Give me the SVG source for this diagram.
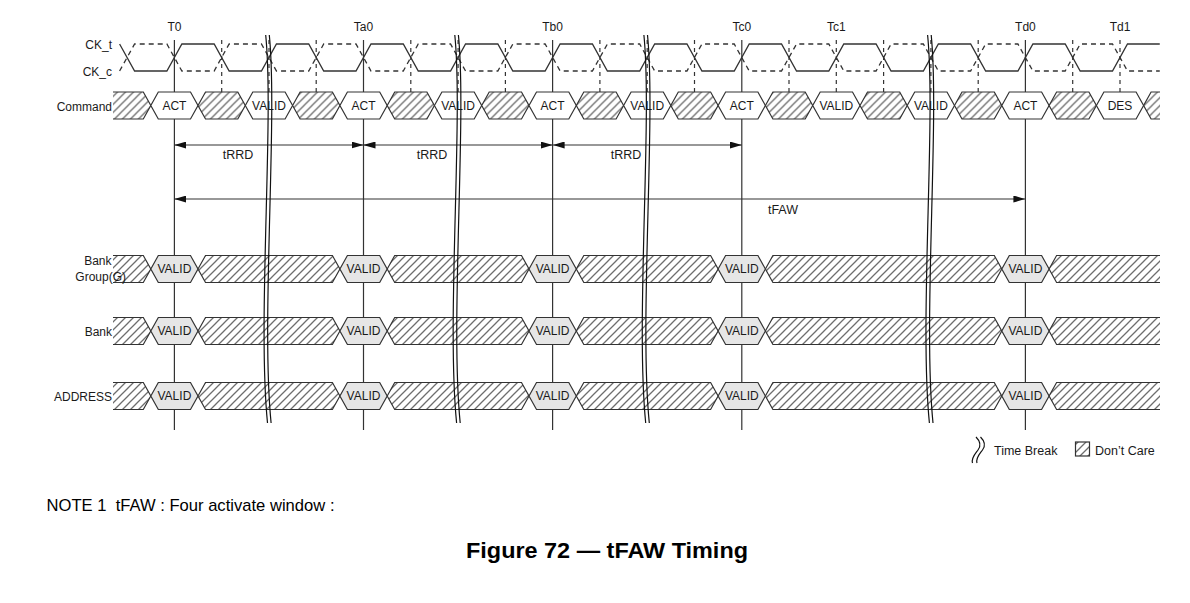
<svg xmlns="http://www.w3.org/2000/svg" width="1190" height="603" viewBox="0 0 1190 603">
<style>
text{font-family:"Liberation Sans",Arial,sans-serif;fill:#1a1a1a;font-size:12px}
.lbl{text-anchor:end}
.mid{text-anchor:middle}
.hx{fill:#fff;stroke:#333;stroke-width:1.2}
.hv{fill:#e6e6e6;stroke:#333;stroke-width:1.2}
.hz{fill:url(#hatch);stroke:#333;stroke-width:1.2}
.hzf{fill:url(#hatch);stroke:none}
.edge{fill:none;stroke:#333;stroke-width:1.2}
.vs{stroke:#333;stroke-width:1.2;fill:none}
.vd{stroke:#333;stroke-width:1.2;stroke-dasharray:4 4;fill:none}
.ck{fill:none;stroke:#333;stroke-width:1.3}
.ckc{fill:none;stroke:#333;stroke-width:1.3;stroke-dasharray:5 4}
.brk{fill:none;stroke:#111;stroke-width:1.2}
.arr{stroke:#333;stroke-width:1.2;marker-start:url(#ah);marker-end:url(#ah)}
</style>
<defs>
<pattern id="hatch" width="8" height="8" patternUnits="userSpaceOnUse">
<rect width="8" height="8" fill="#fff"/>
<path d="M-2,2 L2,-2 M0,8 L8,0 M6,10 L10,6" stroke="#6e6e6e" stroke-width="1.3"/>
</pattern>
<marker id="ah" viewBox="0 0 12 7" refX="12" refY="3.5" markerWidth="12" markerHeight="7" markerUnits="userSpaceOnUse" orient="auto-start-reverse">
<path d="M0,0 L12,3.5 L0,7 z" fill="#111"/>
</marker>
</defs>
<rect width="1190" height="603" fill="#fff"/>

<g id="time-labels" class="mid">
<text class="mid" x="174.4" y="31">T0</text>
<text class="mid" x="363.5" y="31">Ta0</text>
<text class="mid" x="552.6" y="31">Tb0</text>
<text class="mid" x="741.8" y="31">Tc0</text>
<text class="mid" x="836.3" y="31">Tc1</text>
<text class="mid" x="1025.4" y="31">Td0</text>
<text class="mid" x="1120" y="31">Td1</text>
</g>

<g id="grid-lines">
<line class="vs" x1="174.4" y1="40" x2="174.4" y2="430"/>
<line class="vs" x1="363.5" y1="40" x2="363.5" y2="430"/>
<line class="vs" x1="552.6" y1="40" x2="552.6" y2="430"/>
<line class="vs" x1="741.8" y1="40" x2="741.8" y2="430"/>
<line class="vs" x1="1025.4" y1="40" x2="1025.4" y2="430"/>
<path class="vd" d="M221.7,40V92 M269,40V92 M316.2,40V92 M410.8,40V92 M458.1,40V92 M505.4,40V92 M599.9,40V92 M647.2,40V92 M694.5,40V92 M789,40V92 M836.3,40V92 M883.6,40V92 M930.9,40V92 M978.2,40V92 M1072.7,40V92 M1120,40V92"/>
</g>

<g id="clock">
<path class="ck" d="M119.6,44 l15,27 h32.28 l15,-27 h32.28 l15,27 h32.28 l15,-27 h32.28 l15,27 h32.28 l15,-27 h32.28 l15,27 h32.28 l15,-27 h32.28 l15,27 h32.28 l15,-27 h32.28 l15,27 h32.28 l15,-27 h32.28 l15,27 h32.28 l15,-27 h32.28 l15,27 h32.28 l15,-27 h32.28 l15,27 h32.28 l15,-27 h32.28 l15,27 h32.28 l15,-27 h32.28 l15,27 h32.28 l15,-27 h32.28"/>
<path class="ckc" d="M119.6,71 l15,-27 h32.28 l15,27 h32.28 l15,-27 h32.28 l15,27 h32.28 l15,-27 h32.28 l15,27 h32.28 l15,-27 h32.28 l15,27 h32.28 l15,-27 h32.28 l15,27 h32.28 l15,-27 h32.28 l15,27 h32.28 l15,-27 h32.28 l15,27 h32.28 l15,-27 h32.28 l15,27 h32.28 l15,-27 h32.28 l15,27 h32.28 l15,-27 h32.28 l15,27 h32.28 l15,-27 h32.28 l15,27 h32.28"/>
<text class="lbl" x="112" y="49">CK_t</text>
<text class="lbl" x="112" y="76">CK_c</text>
</g>

<g id="command" transform="translate(0,105.5)">
<polygon class="hzf" points="113,-13.5 143.3,-13.5 150.8,0 143.3,13.5 113,13.5"/>
<polyline class="edge" points="113,-13.5 143.3,-13.5 150.8,0 143.3,13.5 113,13.5"/>
<polygon class="hx" points="150.8,0 158.3,-13.5 190.5,-13.5 198,0 190.5,13.5 158.3,13.5"/>
<polygon class="hz" points="198,0 205.5,-13.5 237.8,-13.5 245.3,0 237.8,13.5 205.5,13.5"/>
<polygon class="hx" points="245.3,0 252.8,-13.5 285.1,-13.5 292.6,0 285.1,13.5 252.8,13.5"/>
<polygon class="hz" points="292.6,0 300.1,-13.5 332.4,-13.5 339.9,0 332.4,13.5 300.1,13.5"/>
<polygon class="hx" points="339.9,0 347.4,-13.5 379.7,-13.5 387.2,0 379.7,13.5 347.4,13.5"/>
<polygon class="hz" points="387.2,0 394.7,-13.5 426.9,-13.5 434.4,0 426.9,13.5 394.7,13.5"/>
<polygon class="hx" points="434.4,0 441.9,-13.5 474.2,-13.5 481.7,0 474.2,13.5 441.9,13.5"/>
<polygon class="hz" points="481.7,0 489.2,-13.5 521.5,-13.5 529,0 521.5,13.5 489.2,13.5"/>
<polygon class="hx" points="529,0 536.5,-13.5 568.8,-13.5 576.3,0 568.8,13.5 536.5,13.5"/>
<polygon class="hz" points="576.3,0 583.8,-13.5 616.1,-13.5 623.6,0 616.1,13.5 583.8,13.5"/>
<polygon class="hx" points="623.6,0 631.1,-13.5 663.3,-13.5 670.8,0 663.3,13.5 631.1,13.5"/>
<polygon class="hz" points="670.8,0 678.3,-13.5 710.6,-13.5 718.1,0 710.6,13.5 678.3,13.5"/>
<polygon class="hx" points="718.1,0 725.6,-13.5 757.9,-13.5 765.4,0 757.9,13.5 725.6,13.5"/>
<polygon class="hz" points="765.4,0 772.9,-13.5 805.2,-13.5 812.7,0 805.2,13.5 772.9,13.5"/>
<polygon class="hx" points="812.7,0 820.2,-13.5 852.5,-13.5 860,0 852.5,13.5 820.2,13.5"/>
<polygon class="hz" points="860,0 867.5,-13.5 899.7,-13.5 907.2,0 899.7,13.5 867.5,13.5"/>
<polygon class="hx" points="907.2,0 914.7,-13.5 947,-13.5 954.5,0 947,13.5 914.7,13.5"/>
<polygon class="hz" points="954.5,0 962,-13.5 994.3,-13.5 1001.8,0 994.3,13.5 962,13.5"/>
<polygon class="hx" points="1001.8,0 1009.3,-13.5 1041.6,-13.5 1049.1,0 1041.6,13.5 1009.3,13.5"/>
<polygon class="hz" points="1049.1,0 1056.6,-13.5 1088.9,-13.5 1096.4,0 1088.9,13.5 1056.6,13.5"/>
<polygon class="hx" points="1096.4,0 1103.9,-13.5 1136.1,-13.5 1143.6,0 1136.1,13.5 1103.9,13.5"/>
<polygon class="hzf" points="1143.6,0 1151.1,-13.5 1160,-13.5 1160,13.5 1151.1,13.5"/>
<polyline class="edge" points="1160,-13.5 1151.1,-13.5 1143.6,0 1151.1,13.5 1160,13.5"/>
<text class="mid" x="174.4" y="4.3">ACT</text>
<text class="mid" x="269" y="4.3">VALID</text>
<text class="mid" x="363.5" y="4.3">ACT</text>
<text class="mid" x="458.1" y="4.3">VALID</text>
<text class="mid" x="552.6" y="4.3">ACT</text>
<text class="mid" x="647.2" y="4.3">VALID</text>
<text class="mid" x="741.8" y="4.3">ACT</text>
<text class="mid" x="836.3" y="4.3">VALID</text>
<text class="mid" x="930.9" y="4.3">VALID</text>
<text class="mid" x="1025.4" y="4.3">ACT</text>
<text class="mid" x="1120" y="4.3">DES</text>
<text class="lbl" x="112" y="5">Command</text>
</g>

<g id="bank-group" transform="translate(0,269)">
<polygon class="hzf" points="113,-13.5 143.3,-13.5 150.8,0 143.3,13.5 113,13.5"/>
<polyline class="edge" points="113,-13.5 143.3,-13.5 150.8,0 143.3,13.5 113,13.5"/>
<polygon class="hv" points="150.8,0 158.3,-13.5 190.5,-13.5 198,0 190.5,13.5 158.3,13.5"/>
<polygon class="hz" points="198,0 205.5,-13.5 332.4,-13.5 339.9,0 332.4,13.5 205.5,13.5"/>
<polygon class="hv" points="339.9,0 347.4,-13.5 379.7,-13.5 387.2,0 379.7,13.5 347.4,13.5"/>
<polygon class="hz" points="387.2,0 394.7,-13.5 521.5,-13.5 529,0 521.5,13.5 394.7,13.5"/>
<polygon class="hv" points="529,0 536.5,-13.5 568.8,-13.5 576.3,0 568.8,13.5 536.5,13.5"/>
<polygon class="hz" points="576.3,0 583.8,-13.5 710.6,-13.5 718.1,0 710.6,13.5 583.8,13.5"/>
<polygon class="hv" points="718.1,0 725.6,-13.5 757.9,-13.5 765.4,0 757.9,13.5 725.6,13.5"/>
<polygon class="hz" points="765.4,0 772.9,-13.5 994.3,-13.5 1001.8,0 994.3,13.5 772.9,13.5"/>
<polygon class="hv" points="1001.8,0 1009.3,-13.5 1041.6,-13.5 1049.1,0 1041.6,13.5 1009.3,13.5"/>
<polygon class="hzf" points="1049.1,0 1056.6,-13.5 1160,-13.5 1160,13.5 1056.6,13.5"/>
<polyline class="edge" points="1160,-13.5 1056.6,-13.5 1049.1,0 1056.6,13.5 1160,13.5"/>
<text class="mid" x="174.4" y="4.3">VALID</text>
<text class="mid" x="363.5" y="4.3">VALID</text>
<text class="mid" x="552.6" y="4.3">VALID</text>
<text class="mid" x="741.8" y="4.3">VALID</text>
<text class="mid" x="1025.4" y="4.3">VALID</text>
<text class="lbl" x="111.5" y="-4.5">Bank</text>
<text class="lbl" x="126" y="12">Group(G)</text>
</g>

<g id="bank" transform="translate(0,331)">
<polygon class="hzf" points="113,-13.5 143.3,-13.5 150.8,0 143.3,13.5 113,13.5"/>
<polyline class="edge" points="113,-13.5 143.3,-13.5 150.8,0 143.3,13.5 113,13.5"/>
<polygon class="hv" points="150.8,0 158.3,-13.5 190.5,-13.5 198,0 190.5,13.5 158.3,13.5"/>
<polygon class="hz" points="198,0 205.5,-13.5 332.4,-13.5 339.9,0 332.4,13.5 205.5,13.5"/>
<polygon class="hv" points="339.9,0 347.4,-13.5 379.7,-13.5 387.2,0 379.7,13.5 347.4,13.5"/>
<polygon class="hz" points="387.2,0 394.7,-13.5 521.5,-13.5 529,0 521.5,13.5 394.7,13.5"/>
<polygon class="hv" points="529,0 536.5,-13.5 568.8,-13.5 576.3,0 568.8,13.5 536.5,13.5"/>
<polygon class="hz" points="576.3,0 583.8,-13.5 710.6,-13.5 718.1,0 710.6,13.5 583.8,13.5"/>
<polygon class="hv" points="718.1,0 725.6,-13.5 757.9,-13.5 765.4,0 757.9,13.5 725.6,13.5"/>
<polygon class="hz" points="765.4,0 772.9,-13.5 994.3,-13.5 1001.8,0 994.3,13.5 772.9,13.5"/>
<polygon class="hv" points="1001.8,0 1009.3,-13.5 1041.6,-13.5 1049.1,0 1041.6,13.5 1009.3,13.5"/>
<polygon class="hzf" points="1049.1,0 1056.6,-13.5 1160,-13.5 1160,13.5 1056.6,13.5"/>
<polyline class="edge" points="1160,-13.5 1056.6,-13.5 1049.1,0 1056.6,13.5 1160,13.5"/>
<text class="mid" x="174.4" y="4.3">VALID</text>
<text class="mid" x="363.5" y="4.3">VALID</text>
<text class="mid" x="552.6" y="4.3">VALID</text>
<text class="mid" x="741.8" y="4.3">VALID</text>
<text class="mid" x="1025.4" y="4.3">VALID</text>
<text class="lbl" x="112" y="4.5">Bank</text>
</g>

<g id="address" transform="translate(0,396)">
<polygon class="hzf" points="113,-13.5 143.3,-13.5 150.8,0 143.3,13.5 113,13.5"/>
<polyline class="edge" points="113,-13.5 143.3,-13.5 150.8,0 143.3,13.5 113,13.5"/>
<polygon class="hv" points="150.8,0 158.3,-13.5 190.5,-13.5 198,0 190.5,13.5 158.3,13.5"/>
<polygon class="hz" points="198,0 205.5,-13.5 332.4,-13.5 339.9,0 332.4,13.5 205.5,13.5"/>
<polygon class="hv" points="339.9,0 347.4,-13.5 379.7,-13.5 387.2,0 379.7,13.5 347.4,13.5"/>
<polygon class="hz" points="387.2,0 394.7,-13.5 521.5,-13.5 529,0 521.5,13.5 394.7,13.5"/>
<polygon class="hv" points="529,0 536.5,-13.5 568.8,-13.5 576.3,0 568.8,13.5 536.5,13.5"/>
<polygon class="hz" points="576.3,0 583.8,-13.5 710.6,-13.5 718.1,0 710.6,13.5 583.8,13.5"/>
<polygon class="hv" points="718.1,0 725.6,-13.5 757.9,-13.5 765.4,0 757.9,13.5 725.6,13.5"/>
<polygon class="hz" points="765.4,0 772.9,-13.5 994.3,-13.5 1001.8,0 994.3,13.5 772.9,13.5"/>
<polygon class="hv" points="1001.8,0 1009.3,-13.5 1041.6,-13.5 1049.1,0 1041.6,13.5 1009.3,13.5"/>
<polygon class="hzf" points="1049.1,0 1056.6,-13.5 1160,-13.5 1160,13.5 1056.6,13.5"/>
<polyline class="edge" points="1160,-13.5 1056.6,-13.5 1049.1,0 1056.6,13.5 1160,13.5"/>
<text class="mid" x="174.4" y="4.3">VALID</text>
<text class="mid" x="363.5" y="4.3">VALID</text>
<text class="mid" x="552.6" y="4.3">VALID</text>
<text class="mid" x="741.8" y="4.3">VALID</text>
<text class="mid" x="1025.4" y="4.3">VALID</text>
<text class="lbl" x="112" y="4.5">ADDRESS</text>
</g>

<g id="connectors">
<line class="arr" x1="174.4" y1="145" x2="363.5" y2="145"/>
<line class="arr" x1="363.5" y1="145" x2="552.6" y2="145"/>
<line class="arr" x1="552.6" y1="145" x2="741.8" y2="145"/>
<line class="arr" x1="174.4" y1="199" x2="1025.4" y2="199"/>
<text class="mid" x="238" y="159" style="font-size:12.5px">tRRD</text>
<text class="mid" x="432" y="159" style="font-size:12.5px">tRRD</text>
<text class="mid" x="626" y="159" style="font-size:12.5px">tRRD</text>
<text class="mid" x="783" y="214" style="font-size:12.5px">tFAW</text>
</g>

<g id="time-breaks">
<path class="brk" d="M265.7,35 C274.2,120 257.2,320 267.5,423 M269.3,35 C277.8,120 260.8,320 271.1,423"/>
<path class="brk" d="M454.8,35 C463.3,120 446.3,320 456.6,423 M458.4,35 C466.9,120 449.9,320 460.2,423"/>
<path class="brk" d="M643.9,35 C652.4,120 635.4,320 645.7,423 M647.5,35 C656,120 639,320 649.3,423"/>
<path class="brk" d="M927.6,35 C936.1,120 919.1,320 929.4,423 M931.2,35 C939.7,120 922.7,320 933,423"/>
</g>

<g id="legend">
<path class="brk" d="M976,437 C980,441 981,446 978,450 C975,454 971,458 972.5,463 M980.5,437 C984.5,441 985.5,446 982.5,450 C979.5,454 975.5,458 977,463"/>
<text x="994" y="455" style="font-size:12.5px">Time Break</text>
<rect class="hz" x="1075.5" y="442" width="14" height="14"/>
<text x="1095" y="455" style="font-size:12.5px">Don’t Care</text>
</g>

<text x="46.5" y="511" style="font-size:17px;fill:#000;white-space:pre" xml:space="preserve" textLength="288" lengthAdjust="spacingAndGlyphs">NOTE 1&#160; tFAW : Four activate window :</text>
<text x="466" y="558" style="font-size:22px;font-weight:bold;fill:#000" textLength="282" lengthAdjust="spacingAndGlyphs">Figure 72 — tFAW Timing</text>
</svg>
